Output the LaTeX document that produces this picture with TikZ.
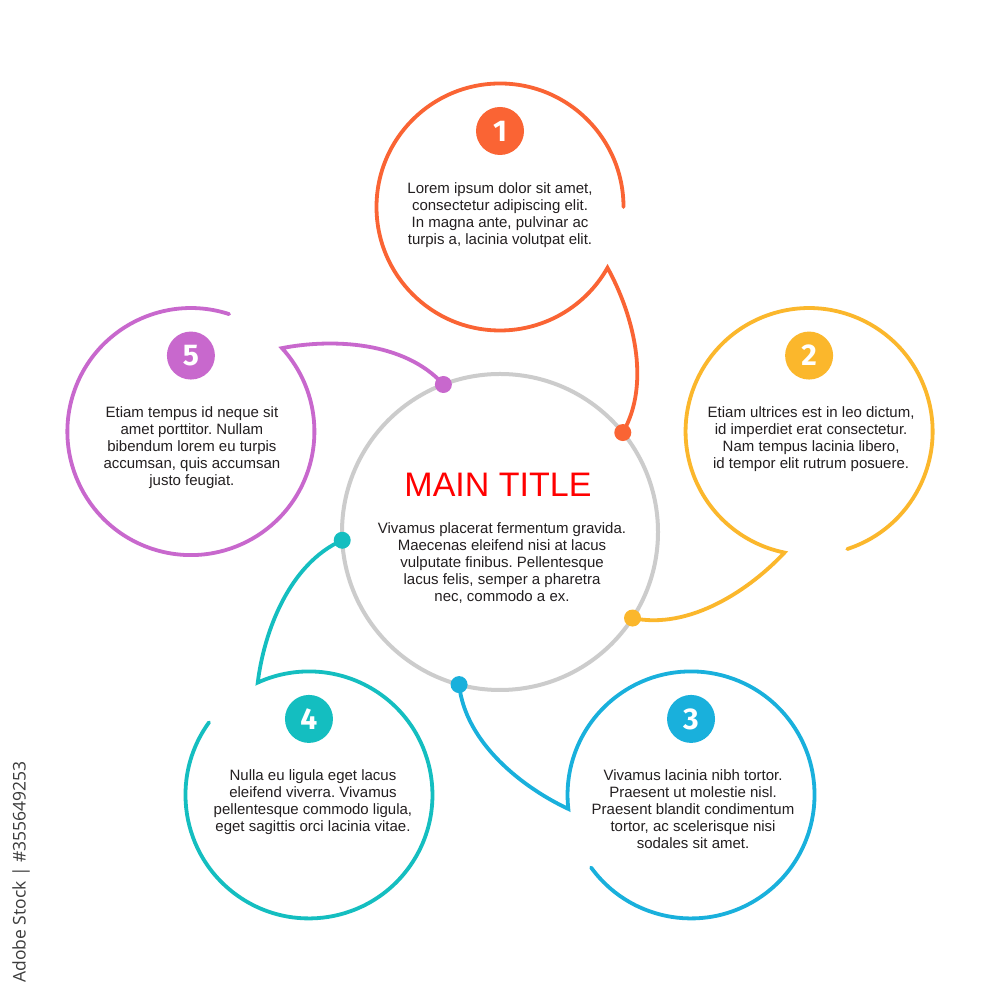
\documentclass[tikz,border=0pt]{standalone}
\usepackage{fontspec}
\setmainfont{Liberation Sans}
\newfontfamily\digitfont{Fira Sans}
\newfontfamily\stockfont{Open Sans}
\usepackage{xcolor}
\usetikzlibrary{positioning}
\frenchspacing

\definecolor{ringone}{RGB}{250,100,52}
\definecolor{ringtwo}{RGB}{251,183,44}
\definecolor{ringthree}{RGB}{25,176,220}
\definecolor{ringfour}{RGB}{20,190,192}
\definecolor{ringfive}{RGB}{200,104,205}
\definecolor{ringgray}{RGB}{204,204,204}
\definecolor{titlered}{RGB}{255,0,0}
\definecolor{textgray}{RGB}{35,31,32}
\definecolor{stockgray}{RGB}{60,60,60}

\begin{document}
\begin{tikzpicture}[x=1pt,y=1pt,
  ring/.style={line width=3.8pt, line cap=round, line join=miter},
  dot/.style={circle, inner sep=0pt, minimum size=17pt},
  badge/.style={circle, inner sep=0pt, minimum size=48pt, text=white,
    font=\digitfont\bfseries\fontsize{30}{30}\selectfont},
  ringtext/.style={anchor=north, align=center, inner sep=0pt, text=textgray,
    font=\fontsize{15}{17}\selectfont}]

\fill[white] (0,0) rectangle (1000,1000);
\useasboundingbox (0,0) rectangle (1000,1000);

% centre ring
\node[circle, draw=ringgray, line width=4pt, minimum size=316pt, inner sep=0pt] (hub) at (500,468) {};

\begin{scope}[shift={(500,468)},rotate=0]
    \coordinate (c1) at (0,325);
    \node[dot, fill=ringone] (d1) at (39:158) {};
    \draw[ring, ringone] (123.5,325) arc[start angle=0, end angle=330.5, radius=123.5]
        .. controls (132,220) and (152,150) .. (d1.center);
\end{scope}

\begin{scope}[shift={(500,468)},rotate=-72]
    \coordinate (c2) at (0,325);
    \node[dot, fill=ringtwo] (d2) at (39:158) {};
    \draw[ring, ringtwo] (123.5,325) arc[start angle=0, end angle=330.5, radius=123.5]
        .. controls (132,220) and (152,150) .. (d2.center);
\end{scope}

\begin{scope}[shift={(500,468)},rotate=-144]
    \coordinate (c3) at (0,325);
    \node[dot, fill=ringthree] (d3) at (39:158) {};
    \draw[ring, ringthree] (123.5,325) arc[start angle=0, end angle=330.5, radius=123.5]
        .. controls (132,220) and (152,150) .. (d3.center);
\end{scope}

\begin{scope}[shift={(500,468)},rotate=-216]
    \coordinate (c4) at (0,325);
    \node[dot, fill=ringfour] (d4) at (39:158) {};
    \draw[ring, ringfour] (123.5,325) arc[start angle=0, end angle=330.5, radius=123.5]
        .. controls (132,220) and (152,150) .. (d4.center);
\end{scope}

\begin{scope}[shift={(500,468)},rotate=-288]
    \coordinate (c5) at (0,325);
    \node[dot, fill=ringfive] (d5) at (39:158) {};
    \draw[ring, ringfive] (123.5,325) arc[start angle=0, end angle=330.5, radius=123.5]
        .. controls (132,220) and (152,150) .. (d5.center);
\end{scope}

% numbers
\node[badge, fill=ringone] (b1) at ([yshift=76pt]c1) {1};
\node[badge, fill=ringtwo] (b2) at ([yshift=76pt]c2) {2};
\node[badge, fill=ringthree] (b3) at ([yshift=76pt]c3) {3};
\node[badge, fill=ringfour] (b4) at ([yshift=76pt]c4) {4};
\node[badge, fill=ringfive] (b5) at ([yshift=76pt]c5) {5};

% texts
\node[ringtext] (t1) at ([yshift=25pt]c1) {Lorem ipsum dolor sit amet,\\consectetur adipiscing elit.\\In magna ante, pulvinar ac\\turpis a, lacinia volutpat elit.};
\node[ringtext] (t2) at ([xshift=2pt,yshift=25pt]c2) {Etiam ultrices est in leo dictum,\\id imperdiet erat consectetur.\\Nam tempus lacinia libero,\\id tempor elit rutrum posuere.};
\node[ringtext] (t3) at ([xshift=2pt,yshift=25pt]c3) {Vivamus lacinia nibh tortor.\\Praesent ut molestie nisl.\\Praesent blandit condimentum\\tortor, ac scelerisque nisi\\sodales sit amet.};
\node[ringtext] (t4) at ([xshift=4pt,yshift=25pt]c4) {Nulla eu ligula eget lacus\\eleifend viverra. Vivamus\\pellentesque commodo ligula,\\eget sagittis orci lacinia vitae.};
\node[ringtext] (t5) at ([xshift=1pt,yshift=25pt]c5) {Etiam tempus id neque sit\\amet porttitor. Nullam\\bibendum lorem eu turpis\\accumsan, quis accumsan\\justo feugiat.};

\node[anchor=base, text=titlered, font=\fontsize{34}{34}\selectfont] (title) at (498,503) {MAIN TITLE};
\node[ringtext] (maintext) at (502,478) {Vivamus placerat fermentum gravida.\\Maecenas eleifend nisi at lacus\\vulputate finibus. Pellentesque\\lacus felis, semper a pharetra\\nec, commodo a ex.};

\node[rotate=90, anchor=west, inner sep=0pt, text=stockgray,
    font=\stockfont\fontsize{17.5}{17.5}\selectfont] (stockid) at (21,17) {Adobe Stock | \#355649253};

\end{tikzpicture}
\end{document}
